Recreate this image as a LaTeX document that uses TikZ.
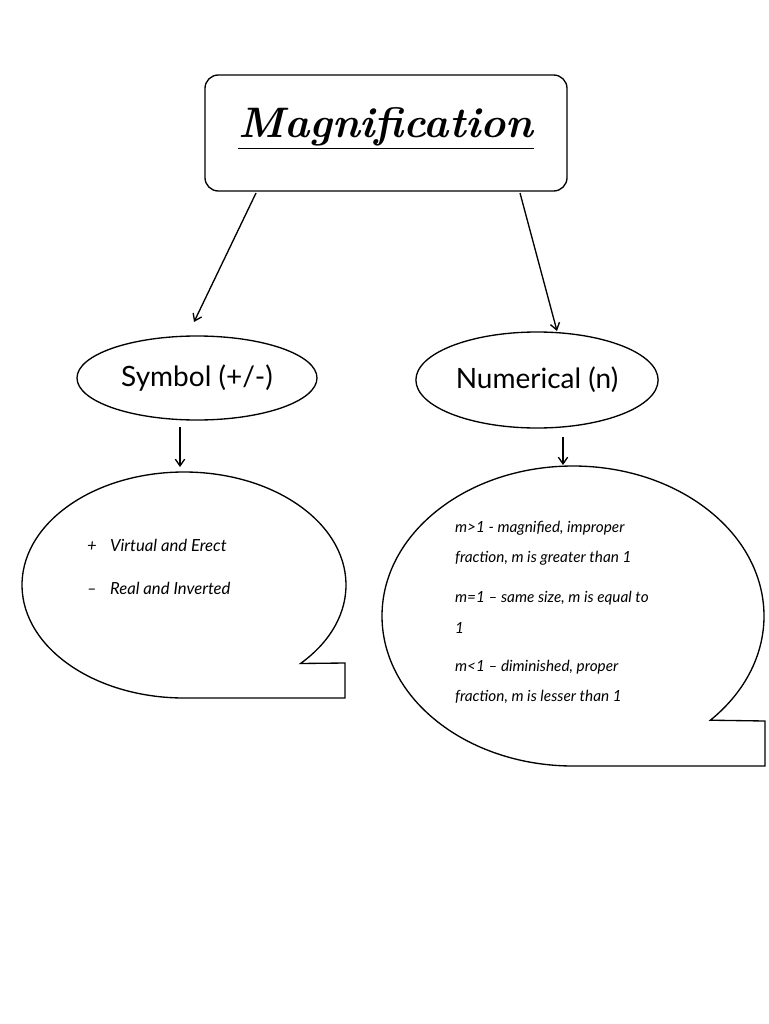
\documentclass[tikz,border=0pt]{standalone}
\usepackage{fontspec}
\setsansfont{Lato}
\usetikzlibrary{shapes.geometric,arrows.meta}
\begin{document}
\begin{tikzpicture}[x=0.75pt,y=-0.75pt,line width=1pt,
  arr/.style={-{Straight Barb[length=5pt,width=7pt]}},
  oval/.style={draw,ellipse,font=\sffamily\fontsize{21}{25}\selectfont},
  btxt/.style={anchor=west,font=\sffamily\itshape\fontsize{12.5}{15}\selectfont},
  rtxt/.style={anchor=west,font=\sffamily\itshape\fontsize{11.5}{14}\selectfont}]
\useasboundingbox (0,0) rectangle (768,1024);
\node[draw,rounded corners=10pt,minimum width=362*0.75pt,minimum height=116*0.75pt] (title) at (386,133) {};
\node[font=\itshape\bfseries\fontsize{32}{36}\selectfont] (tt) at (386,128) {\underline{Magnification}};
\node[oval,minimum width=240*0.75pt,minimum height=84*0.75pt] (sym) at (197,378) {Symbol (+/-)};
\node[oval,minimum width=210*0.75pt,minimum height=96*0.75pt] (num) at (537,380) {Numerical (n)};
\coordinate (t1) at (256,193); \coordinate (t2) at (520,193);
\coordinate (a1) at (194,322); \coordinate (a2) at (557,331);
\draw[arr] (t1) -- (a1);
\draw[arr] (t2) -- (a2);
\coordinate (s1) at (180,427); \coordinate (s2) at (180,467);
\coordinate (n1) at (563,437); \coordinate (n2) at (563,465);
\draw[arr] (s1) -- (s2);
\draw[arr] (n1) -- (n2);
% bubble 1
\coordinate (b1) at (184,585);
\draw ([shift={(44:162 and 113)}]b1) arc[start angle=44,end angle=-270,x radius=162,y radius=113]
  -- (345,698) -- (345,663) -- cycle;
% bubble 2
\coordinate (b2) at (573,616);
\draw ([shift={(44:191 and 150)}]b2) arc[start angle=44,end angle=-270,x radius=191,y radius=150]
  -- (765,766) -- (765,721) -- cycle;
\node[btxt] at (82,545) {+\hspace{10pt}Virtual and Erect};
\node[btxt] at (82,588) {–\hspace{10pt}Real and Inverted};
\node[rtxt] at (450,528) {m>1 - magnified, improper};
\node[rtxt] at (450,558) {fraction, m is greater than 1};
\node[rtxt] at (450,598) {m=1 – same size, m is equal to};
\node[rtxt] at (450,628) {1};
\node[rtxt] at (450,667) {m<1 – diminished, proper};
\node[rtxt] at (450,697) {fraction, m is lesser than 1};
\end{tikzpicture}
\end{document}
